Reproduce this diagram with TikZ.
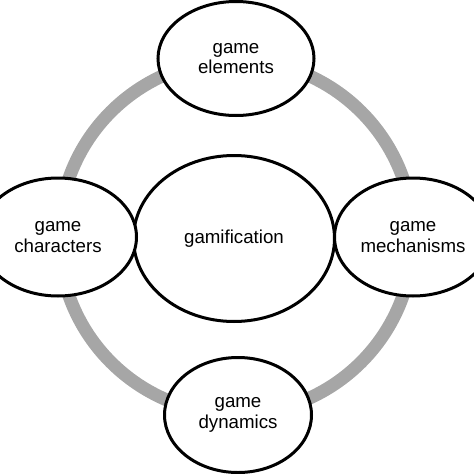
\documentclass[tikz,border=0pt]{standalone}
\usepackage{fontspec}
\setmainfont{Liberation Sans}
\usetikzlibrary{shapes.geometric}
\definecolor{ringgray}{RGB}{166,166,166}
\tikzset{
  bubble/.style={ellipse, draw=black, line width=3pt, fill=white, inner sep=0pt,
    align=center, font=\fontsize{18.7pt}{20.5pt}\selectfont},
  ring/.style={draw=ringgray, line width=13pt}
}
\begin{document}
\begin{tikzpicture}[x=1pt,y=-1pt]
\useasboundingbox (0,0) rectangle (474,474);
\clip (0,0) rectangle (474,474);
\coordinate (ringc) at (236,237);
\draw[ring] (ringc) circle[radius=177pt];
\node[bubble, minimum width=201pt, minimum height=166pt] (gam) at (234,238.5) {gamification};
\node[bubble, minimum width=156pt, minimum height=114pt] (elem) at (236,58.5) {game\\elements};
\node[bubble, minimum width=157pt, minimum height=118pt] (char) at (58,237) {game\\characters};
\node[bubble, minimum width=157pt, minimum height=118pt] (mech) at (413,237) {game\\mechanisms};
\node[bubble, minimum width=147pt, minimum height=115pt] (dyn) at (238,415) {game\\dynamics};
\end{tikzpicture}
\end{document}
